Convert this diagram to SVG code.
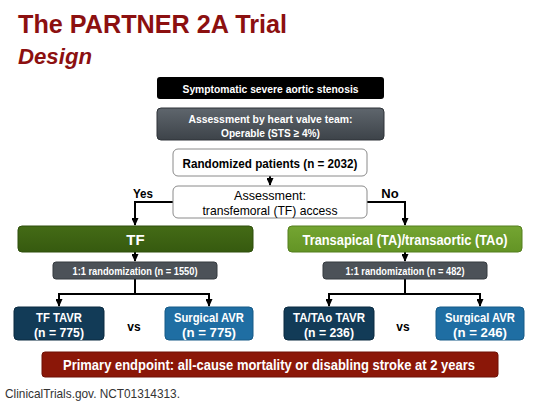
<svg xmlns="http://www.w3.org/2000/svg" width="540" height="405" viewBox="0 0 540 405">
<defs>
<style>
text{font-family:"Liberation Sans",Arial,sans-serif;}
.t{font-weight:bold;fill:#ffffff;text-anchor:middle;}
.k{fill:#000;text-anchor:middle;}
.ln{fill:none;stroke:#000;stroke-width:2;}
</style>
<marker id="ah" markerWidth="8" markerHeight="7" refX="7" refY="3.5" orient="auto" markerUnits="userSpaceOnUse">
<path d="M0,0 L8,3.5 L0,7 Z" fill="#000"/>
</marker>
<linearGradient id="gGray" x1="0" y1="0" x2="0" y2="1">
<stop offset="0" stop-color="#5f666d"/><stop offset="1" stop-color="#3d4349"/>
</linearGradient>
<linearGradient id="gGreenD" x1="0" y1="0" x2="0" y2="1">
<stop offset="0" stop-color="#446b16"/><stop offset="1" stop-color="#365a0f"/>
</linearGradient>
<linearGradient id="gGreenL" x1="0" y1="0" x2="0" y2="1">
<stop offset="0" stop-color="#74a532"/><stop offset="1" stop-color="#639425"/>
</linearGradient>
</defs>
<rect width="540" height="405" fill="#ffffff"/>

<text x="18" y="33" font-size="26" font-weight="bold" fill="#8c1010" textLength="269" lengthAdjust="spacingAndGlyphs">The PARTNER 2A Trial</text>
<text x="18" y="64" font-size="22" font-weight="bold" font-style="italic" fill="#8c1010" textLength="74" lengthAdjust="spacingAndGlyphs">Design</text>

<g id="connectors">
<path class="ln" d="M270,176 V185" marker-end="url(#ah)"/>
<path class="ln" d="M173,202 H135 V225" marker-end="url(#ah)"/>
<path class="ln" d="M367,202 H405 V225" marker-end="url(#ah)"/>
<path class="ln" d="M135,252 V261" marker-end="url(#ah)"/>
<path class="ln" d="M405,252 V261" marker-end="url(#ah)"/>
<path class="ln" d="M135,279 V294"/>
<path class="ln" d="M59,306 V294 H209 V306" marker-end="url(#ah)"/>
<path class="ln" d="M59,294 V306" marker-end="url(#ah)"/>
<path class="ln" d="M405,279 V294"/>
<path class="ln" d="M329,306 V294 H480 V306" marker-end="url(#ah)"/>
<path class="ln" d="M329,294 V306" marker-end="url(#ah)"/>
</g>

<g id="n-symptomatic">
<rect x="157" y="77" width="227" height="22" rx="3" fill="#000"/>
<text class="t" x="270.5" y="92.5" font-size="11.5" textLength="176" lengthAdjust="spacingAndGlyphs">Symptomatic severe aortic stenosis</text>
</g>
<g id="n-heartteam">
<rect x="157" y="108" width="227" height="32" rx="4" fill="url(#gGray)" stroke="#2e3338" stroke-width="1"/>
<text class="t" x="270.5" y="122.5" font-size="11.5" textLength="164" lengthAdjust="spacingAndGlyphs">Assessment by heart valve team:</text>
<text class="t" x="270.5" y="136.5" font-size="11.5" textLength="99" lengthAdjust="spacingAndGlyphs">Operable (STS ≥ 4%)</text>
</g>
<g id="n-randomized">
<rect x="173" y="149" width="194" height="27" rx="5" fill="#fff" stroke="#8a8a8a" stroke-width="1"/>
<text class="k" x="270" y="167.5" font-size="13.5" font-weight="bold" textLength="175" lengthAdjust="spacingAndGlyphs">Randomized patients (n = 2032)</text>
</g>
<g id="n-assessment">
<rect x="173" y="186" width="194" height="32" rx="5" fill="#fff" stroke="#8a8a8a" stroke-width="1"/>
<text class="k" x="270" y="199.5" font-size="13" textLength="72" lengthAdjust="spacingAndGlyphs">Assessment:</text>
<text class="k" x="270" y="214.5" font-size="13" textLength="135" lengthAdjust="spacingAndGlyphs">transfemoral (TF) access</text>
</g>
<g id="l-yes"><text class="k" x="143" y="198" font-size="13" font-weight="bold" textLength="20" lengthAdjust="spacingAndGlyphs">Yes</text></g>
<g id="l-no"><text class="k" x="390" y="198" font-size="13" font-weight="bold">No</text></g>

<g id="n-tf">
<rect x="18" y="226" width="235" height="26" rx="4" fill="url(#gGreenD)" stroke="#2f4f0c" stroke-width="1"/>
<text class="t" x="135.5" y="244.5" font-size="15">TF</text>
</g>
<g id="n-ta">
<rect x="288" y="226" width="234" height="26" rx="4" fill="url(#gGreenL)" stroke="#557f1f" stroke-width="1"/>
<text class="t" x="405" y="244.5" font-size="14" textLength="205" lengthAdjust="spacingAndGlyphs">Transapical (TA)/transaortic (TAo)</text>
</g>
<g id="n-rand-tf">
<rect x="53" y="262" width="164" height="17" rx="3" fill="#4c5258" stroke="#353a3f" stroke-width="1"/>
<text class="t" x="135" y="274.5" font-size="11" textLength="125" lengthAdjust="spacingAndGlyphs">1:1 randomization (n = 1550)</text>
</g>
<g id="n-rand-ta">
<rect x="323" y="262" width="164" height="17" rx="3" fill="#4c5258" stroke="#353a3f" stroke-width="1"/>
<text class="t" x="405" y="274.5" font-size="11" textLength="119" lengthAdjust="spacingAndGlyphs">1:1 randomization (n = 482)</text>
</g>

<g id="n-tf-tavr">
<rect x="14" y="307" width="90" height="33" rx="4" fill="#123b57" stroke="#0b2a40" stroke-width="1"/>
<text class="t" x="59" y="321.5" font-size="13.5" textLength="46" lengthAdjust="spacingAndGlyphs">TF TAVR</text>
<text class="t" x="59" y="336.5" font-size="13.5" textLength="50" lengthAdjust="spacingAndGlyphs">(n = 775)</text>
</g>
<g id="n-tf-savr">
<rect x="165" y="307" width="88" height="33" rx="4" fill="#1f6ea3" stroke="#165a87" stroke-width="1"/>
<text class="t" x="209" y="321.5" font-size="13.5" textLength="70" lengthAdjust="spacingAndGlyphs">Surgical AVR</text>
<text class="t" x="209" y="336.5" font-size="13.5" textLength="54" lengthAdjust="spacingAndGlyphs">(n = 775)</text>
</g>
<g id="vs-left"><text class="k" x="134" y="331" font-size="12" font-weight="bold">vs</text></g>
<g id="n-ta-tavr">
<rect x="284" y="307" width="90" height="33" rx="4" fill="#123b57" stroke="#0b2a40" stroke-width="1"/>
<text class="t" x="329" y="321.5" font-size="13.5" textLength="72" lengthAdjust="spacingAndGlyphs">TA/TAo TAVR</text>
<text class="t" x="329" y="336.5" font-size="13.5" textLength="50" lengthAdjust="spacingAndGlyphs">(n = 236)</text>
</g>
<g id="n-ta-savr">
<rect x="436" y="307" width="88" height="33" rx="4" fill="#1f6ea3" stroke="#165a87" stroke-width="1"/>
<text class="t" x="480" y="321.5" font-size="13.5" textLength="70" lengthAdjust="spacingAndGlyphs">Surgical AVR</text>
<text class="t" x="480" y="336.5" font-size="13.5" textLength="54" lengthAdjust="spacingAndGlyphs">(n = 246)</text>
</g>
<g id="vs-right"><text class="k" x="403" y="331" font-size="12" font-weight="bold">vs</text></g>

<g id="n-endpoint">
<rect x="42" y="352" width="456" height="25" rx="3" fill="#8b1708" stroke="#6e1005" stroke-width="1"/>
<text class="t" x="269" y="369.5" font-size="15" textLength="412" lengthAdjust="spacingAndGlyphs">Primary endpoint: all-cause mortality or disabling stroke at 2 years</text>
</g>

<text x="5" y="398" font-size="13" fill="#333" textLength="175" lengthAdjust="spacingAndGlyphs">ClinicalTrials.gov. NCT01314313.</text>
</svg>
